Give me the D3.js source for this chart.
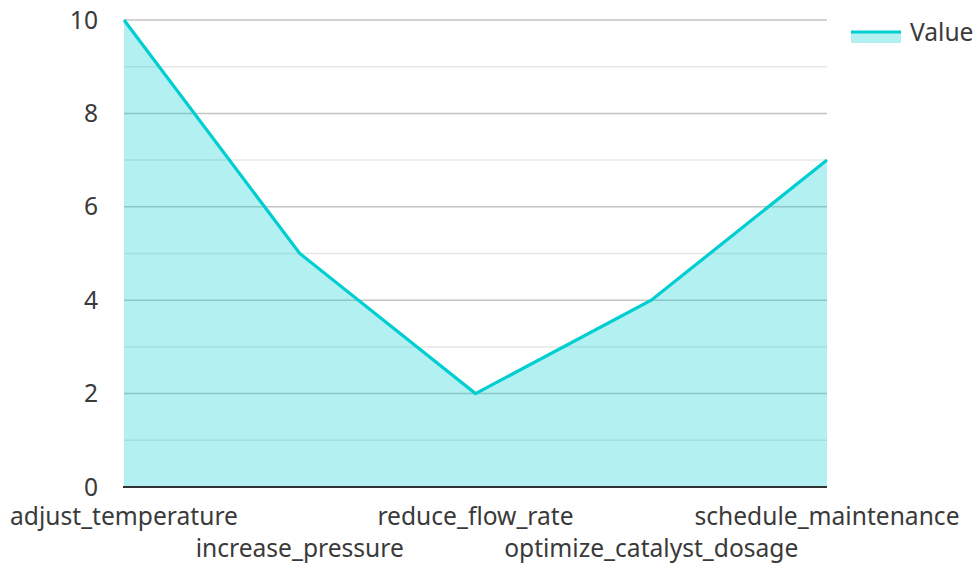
<!DOCTYPE html>
<html><head><meta charset="utf-8">
<script src="https://cdn.jsdelivr.net/npm/d3@7"></script>
<style>body{margin:0;background:#fff;} text{font-family:"Noto Sans",sans-serif;}</style>
</head><body>
<svg id="c" width="975" height="563"></svg>
<script>
const categories = ["adjust_temperature","increase_pressure","reduce_flow_rate","optimize_catalyst_dosage","schedule_maintenance"];
const values = [10, 5, 2, 4, 7];
const yTicks = [0, 2, 4, 6, 8, 10];
const seriesName = "Value";

(function(){
const svg = d3.select("#c");
const mLeft = 124, mRight = 827, mTop = 20, mBottom = 487;
const x = d3.scalePoint().domain(categories).range([mLeft, mRight]);
const y = d3.scaleLinear().domain([0, 10]).range([mBottom, mTop]);
const color = "#00CED1";
const fs = 24.6;

// grid
const minor = d3.range(1, 10, 2);
svg.append("g").selectAll("line").data(minor).join("line")
  .attr("x1", mLeft).attr("x2", mRight).attr("y1", d => y(d)).attr("y2", d => y(d))
  .attr("stroke", "#e6e6e6").attr("stroke-width", 1.5);
svg.append("g").selectAll("line").data(yTicks.filter(d => d > 0)).join("line")
  .attr("x1", mLeft).attr("x2", mRight).attr("y1", d => y(d)).attr("y2", d => y(d))
  .attr("stroke", "#c4c4c4").attr("stroke-width", 1.5);

const data = categories.map((c, i) => ({c, v: values[i]}));
svg.append("path").datum(data)
  .attr("d", d3.area().x(d => x(d.c)).y0(y(0)).y1(d => y(d.v)))
  .attr("fill", color).attr("fill-opacity", 0.3);
svg.append("path").datum(data)
  .attr("d", d3.line().x(d => x(d.c)).y(d => y(d.v)))
  .attr("fill", "none").attr("stroke", color).attr("stroke-width", 3.2).attr("stroke-linejoin", "miter");

// x axis line
svg.append("line").attr("x1", mLeft - 1).attr("x2", mRight).attr("y1", mBottom).attr("y2", mBottom)
  .attr("stroke", "#333").attr("stroke-width", 2);

// y labels
svg.append("g").selectAll("text").data(yTicks).join("text")
  .attr("x", 98).attr("y", d => y(d)).attr("dy", "0.35em")
  .attr("text-anchor", "end").attr("fill", "#3a3a3a").attr("font-size", fs).text(d => d);

// x labels
svg.append("g").selectAll("text").data(categories).join("text")
  .attr("x", d => x(d)).attr("y", (d, i) => i % 2 === 0 ? 516 : 548).attr("dy", "0.35em")
  .attr("text-anchor", "middle").attr("fill", "#3a3a3a").attr("font-size", fs).text(d => d);

// legend
const lg = svg.append("g");
lg.append("rect").attr("x", 851).attr("y", 31).attr("width", 50).attr("height", 12)
  .attr("fill", color).attr("fill-opacity", 0.3);
lg.append("line").attr("x1", 851).attr("x2", 901).attr("y1", 32).attr("y2", 32)
  .attr("stroke", color).attr("stroke-width", 3);
lg.append("text").attr("x", 910).attr("y", 32).attr("dy", "0.35em")
  .attr("fill", "#3a3a3a").attr("font-size", fs).text(seriesName);
})();
</script>
</body></html>
